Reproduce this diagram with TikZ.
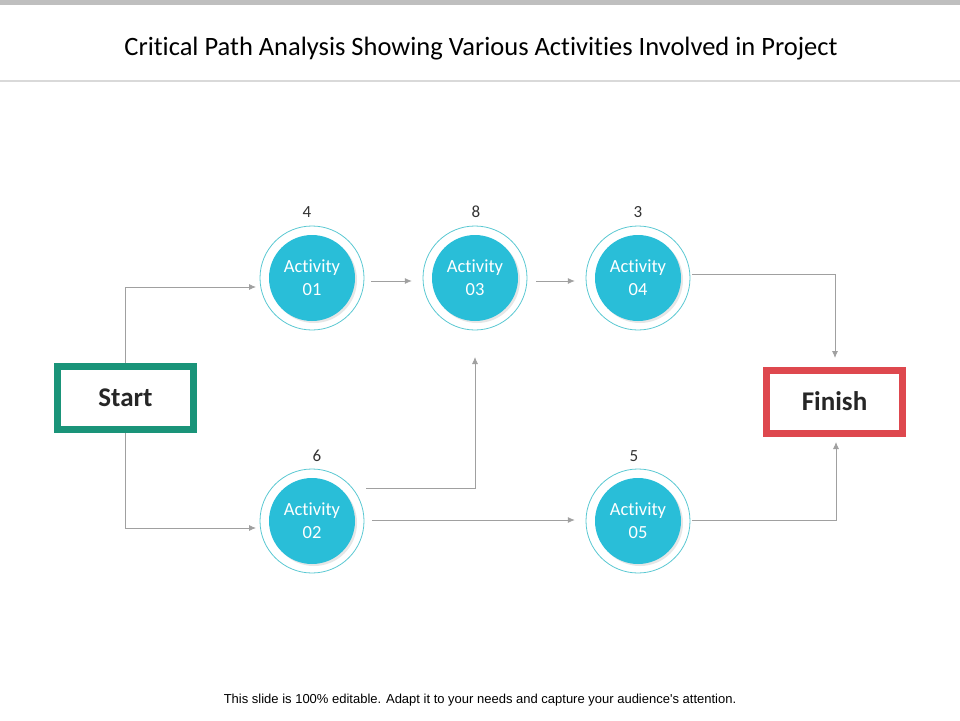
\documentclass[tikz,border=0pt]{standalone}
\usepackage{fontspec}
\setmainfont[Ligatures={NoCommon}]{Carlito}
\newfontfamily\footfont{Liberation Sans}
\usetikzlibrary{arrows.meta,shadows}
\definecolor{actcyan}{RGB}{41,190,216}
\definecolor{ringcyan}{RGB}{90,200,210}
\definecolor{startgreen}{RGB}{26,148,121}
\definecolor{finishred}{RGB}{222,72,78}
\definecolor{linkgray}{RGB}{160,160,160}
\tikzset{
  activity/.style={circle, fill=actcyan, minimum size=86pt, inner sep=0pt,
    text=white, align=center, font=\fontsize{18.5}{23}\selectfont,
    drop shadow={shadow xshift=2pt, shadow yshift=-2pt, opacity=0.2}},
  ring/.style={draw=ringcyan, line width=0.8pt},
  endbox/.style={rectangle, fill=white, line width=7pt, minimum width=136pt,
    minimum height=63pt, font=\bfseries\fontsize{27}{30}\selectfont, text=black!85,
    drop shadow={shadow xshift=2pt, shadow yshift=-2pt, opacity=0.25}},
  dur/.style={font=\fontsize{17}{20}\selectfont, text=black!80},
  link/.style={draw=linkgray, line width=0.8pt, -{Latex[length=7pt,width=6pt]}}
}
\begin{document}
\begin{tikzpicture}[x=1pt,y=-1pt]
  \useasboundingbox (0,0) rectangle (960,720);
  % header
  \fill[black!25] (0,0) rectangle (960,5);
  \fill[black!15] (0,80) rectangle (960,82);
  \node (title) at (481,49) {\fontsize{26.5}{30}\selectfont Critical Path Analysis Showing Various Activities Involved in Project};

  % start and finish
  \node[endbox, draw=startgreen] (start) at (125.5,398) {Start};
  \node[endbox, draw=finishred] (finish) at (834.5,401.5) {Finish};

  % activities
  \node[activity] (a01) at (312,278) {Activity\\01};
  \node[activity] (a03) at (475,278) {Activity\\03};
  \node[activity] (a04) at (638,278) {Activity\\04};
  \node[activity] (a02) at (312,521) {Activity\\02};
  \node[activity] (a05) at (638,521) {Activity\\05};
  \foreach \a in {a01,a02,a03,a04,a05}
    \draw[ring] (\a) circle (52);

  % durations
  \node[dur] (d01) at (307,212) {4};
  \node[dur] (d03) at (476,212) {8};
  \node[dur] (d04) at (638,212) {3};
  \node[dur] (d02) at (317,456) {6};
  \node[dur] (d05) at (634,456) {5};

  % connectors
  \coordinate (in01) at (256,287);
  \coordinate (in02) at (256,528);
  \coordinate (in03) at (475,357);
  \coordinate (tofin) at (835,358);
  \coordinate (tofinb) at (836,442);
  \draw[link] (start.north) |- (in01);
  \draw[link] (start.south) |- (in02);
  \draw[link] ([xshift=16pt,yshift=-3pt]a01.east) -- ([xshift=-20pt,yshift=-3pt]a03.west);
  \draw[link] ([xshift=18pt,yshift=-3pt]a03.east) -- ([xshift=-20pt,yshift=-3pt]a04.west);
  \draw[link] ([xshift=11pt,yshift=4pt]a04.east) -| (tofin);
  \draw[link] ([xshift=11pt,yshift=33pt]a02.east) -| (in03);
  \draw[link] ([xshift=17pt,yshift=1pt]a02.east) -- ([xshift=-20pt,yshift=1pt]a05.west);
  \draw[link] ([xshift=11pt,yshift=1pt]a05.east) -| (tofinb);

  % footer
  \node (foot) at (480,700) {\footfont\fontsize{13}{15}\selectfont This slide is 100\% editable. Adapt it to your needs and capture your audience's attention.};
\end{tikzpicture}
\end{document}
